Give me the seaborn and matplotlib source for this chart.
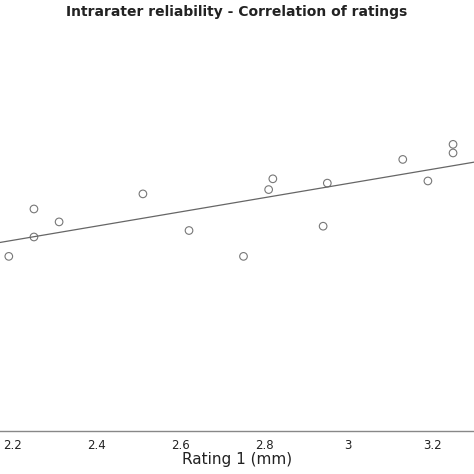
import numpy as np
import pandas as pd
import seaborn as sns
import matplotlib.pyplot as plt

rating1 = [2.19, 2.25, 2.25, 2.31, 2.51, 2.62, 2.75, 2.81, 2.82, 2.94, 2.95, 3.13, 3.19, 3.25, 3.25]
rating2 = [2.31, 2.53, 2.40, 2.47, 2.60, 2.43, 2.31, 2.62, 2.67, 2.45, 2.65, 2.76, 2.66, 2.83, 2.79]
xticks = [2.2, 2.4, 2.6, 2.8, 3.0, 3.2]
xticklabels = ["2.2", "2.4", "2.6", "2.8", "3", "3.2"]

df = pd.DataFrame({"r1": rating1, "r2": rating2})

sns.set_style("white")
fig = plt.figure(figsize=(4.74, 4.74), dpi=100)
ax = fig.add_axes([0.0, 0.091, 1.0, 0.909])

sns.regplot(data=df, x="r1", y="r2", ax=ax, ci=None, truncate=False,
            scatter_kws=dict(facecolors="none", edgecolors="#555555", s=30, linewidths=0.8),
            line_kws=dict(color="#666666", linewidth=0.9))

ax.set_xlim(2.169, 3.30)
ax.set_ylim(1.5, 3.5)
ax.set_xticks(xticks)
ax.set_xticklabels(xticklabels)
ax.set_yticks([])
ax.tick_params(axis="x", direction="in", length=5, width=0.8, color="#888888",
               labelsize=8.5, labelcolor="#222222", pad=6)
for side in ["left", "right", "top"]:
    ax.spines[side].set_visible(False)
ax.spines["bottom"].set_color("#888888")
ax.spines["bottom"].set_linewidth(1.0)
ax.set_xlabel("Rating 1 (mm)", fontsize=11, color="#222222", labelpad=0)
ax.set_ylabel("")
fig.text(0.5, 0.975, "Intrarater reliability - Correlation of ratings", ha="center", va="center",
         fontsize=10, fontweight="bold", color="#222222")

fig.savefig("out.png", dpi=100)
